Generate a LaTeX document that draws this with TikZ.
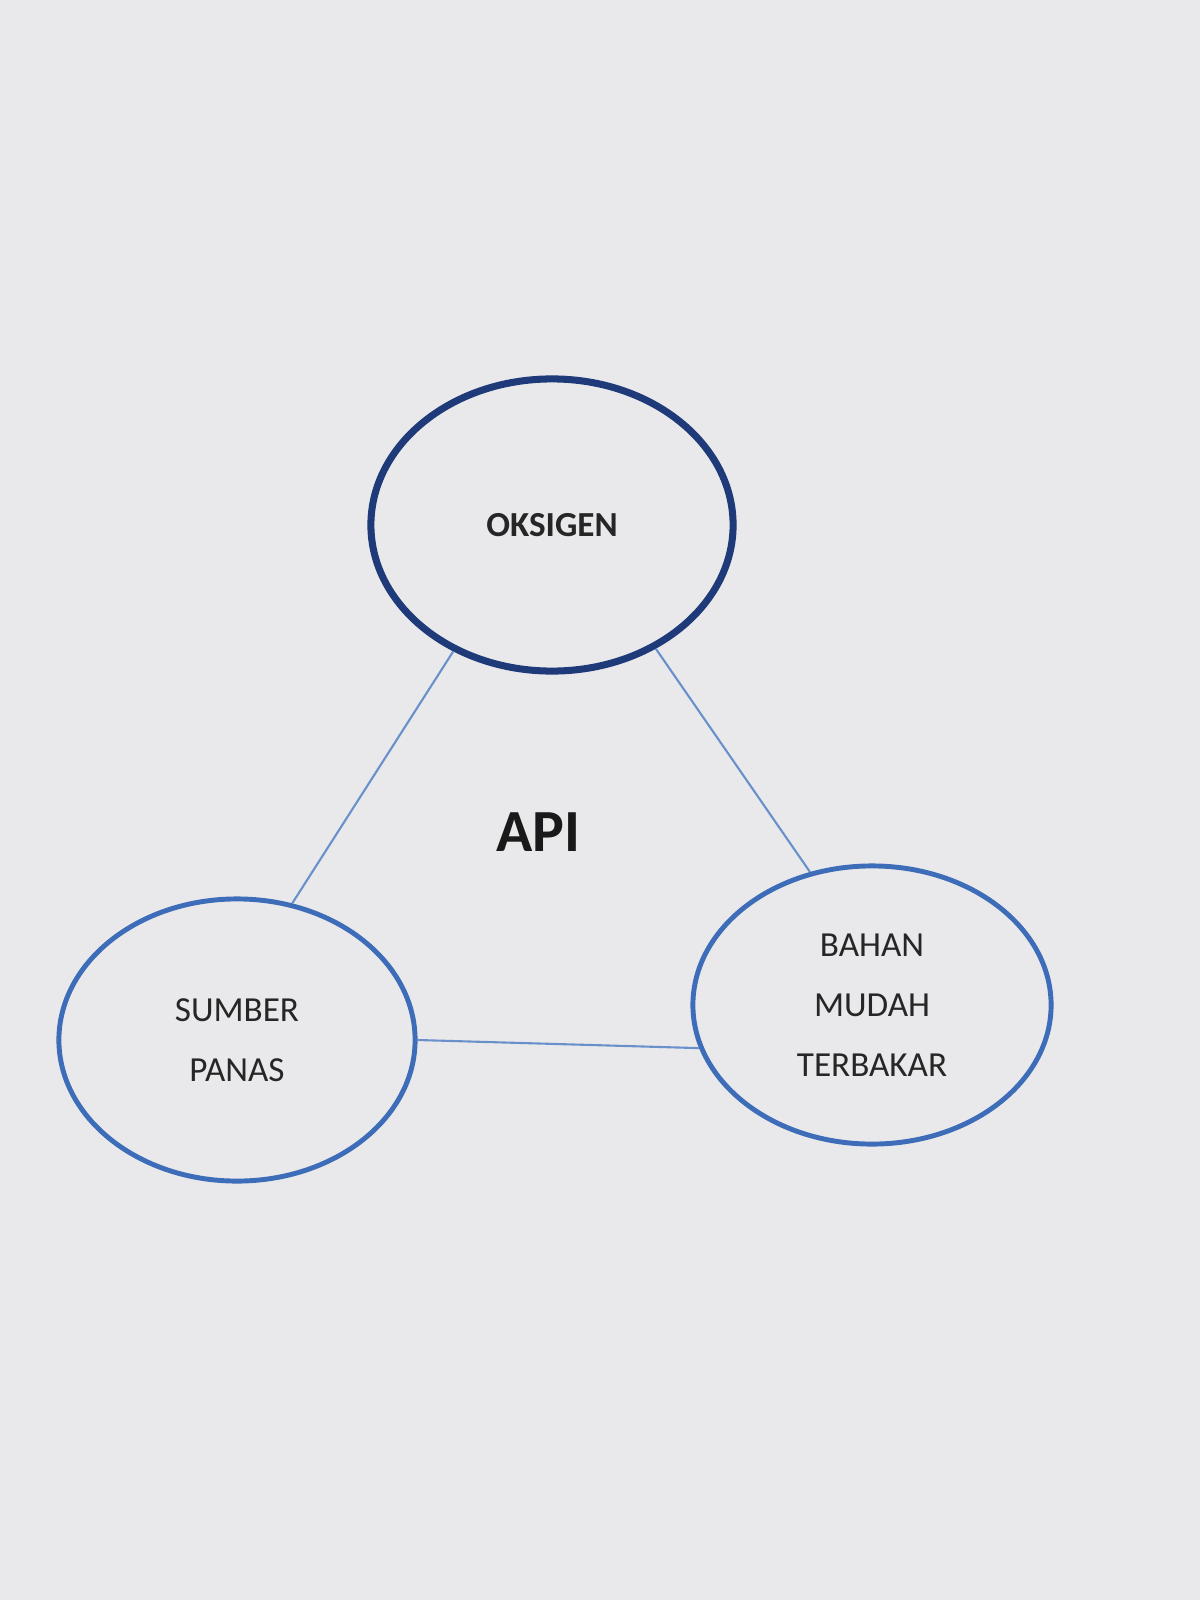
\documentclass[tikz,border=0pt]{standalone}
\usepackage{fontspec}
\setmainfont{Carlito}
\usetikzlibrary{shapes.geometric}
\definecolor{bg}{HTML}{E9E9EC}
\definecolor{navy}{HTML}{1F3A78}
\definecolor{mblue}{HTML}{3D6CB8}
\definecolor{lblue}{HTML}{6A90CC}
\begin{document}
\begin{tikzpicture}[x=0.01cm,y=-0.01cm,
  circ/.style={ellipse,draw=mblue,line width=1.4pt,inner sep=0pt,align=center,font=\fontsize{10}{17}\selectfont,text=black!85},
  link/.style={draw=lblue,line width=0.6pt}]
\fill[bg] (0,0) rectangle (1200,1600);
\useasboundingbox (0,0) rectangle (1200,1600);
\node[circ,draw=navy,line width=2pt,minimum width=3.62cm,minimum height=2.92cm,font=\bfseries\fontsize{10}{13}\selectfont] (ok) at (552,525) {OKSIGEN};
\node[circ,minimum width=3.56cm,minimum height=2.82cm] (sp) at (237,1040) {SUMBER\\PANAS};
\node[circ,minimum width=3.58cm,minimum height=2.78cm] (bm) at (872,1005) {BAHAN\\MUDAH\\TERBAKAR};
\node[font=\bfseries\fontsize{17}{20}\selectfont,text=black!90] (api) at (538,832) {API};
\draw[link] (ok.232) -- (sp.68);
\draw[link] (ok.-50) -- (bm.115);
\draw[link] (sp.east) -- (bm.194);
\end{tikzpicture}
\end{document}
